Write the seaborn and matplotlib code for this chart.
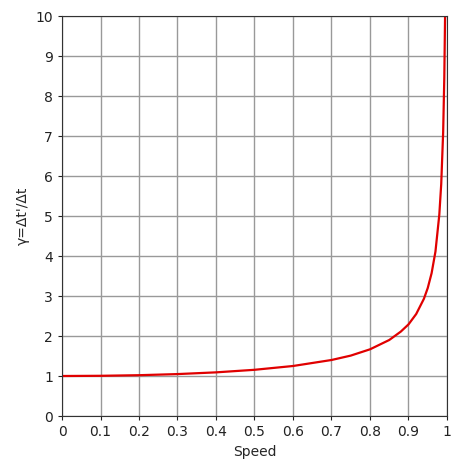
import matplotlib
matplotlib.use("Agg")
import matplotlib.pyplot as plt
import seaborn as sns
import pandas as pd

speed = [0, 0.1, 0.2, 0.3, 0.4, 0.5, 0.6, 0.7, 0.75, 0.8, 0.85, 0.88, 0.9, 0.92, 0.94, 0.95, 0.96, 0.97, 0.98, 0.985, 0.99, 0.993, 0.995]
gamma = [1.0, 1.005, 1.02, 1.048, 1.091, 1.155, 1.25, 1.40, 1.51, 1.667, 1.90, 2.11, 2.29, 2.55, 2.93, 3.20, 3.57, 4.11, 5.03, 5.80, 7.09, 8.47, 10.0]
xticks = [0, 0.1, 0.2, 0.3, 0.4, 0.5, 0.6, 0.7, 0.8, 0.9, 1]
xlabels = ["0", "0.1", "0.2", "0.3", "0.4", "0.5", "0.6", "0.7", "0.8", "0.9", "1"]
yticks = list(range(11))

sns.set_style("white")
fig = plt.figure(figsize=(4.74, 4.74), dpi=100)
ax = fig.add_axes([62/474, 58/474, 385/474, 400/474])
df = pd.DataFrame({"Speed": speed, "gamma": gamma})
sns.lineplot(data=df, x="Speed", y="gamma", color="#e00000", linewidth=1.6, ax=ax)
ax.set_xlim(0, 1)
ax.set_ylim(0, 10)
ax.set_xticks(xticks)
ax.set_xticklabels(xlabels)
ax.set_yticks(yticks)
ax.grid(True, color="#999999", linewidth=1)
for s in ax.spines.values():
    s.set_color("#333333")
ax.tick_params(labelsize=10, length=3, direction="out", bottom=True, left=True, colors="#222222")
ax.set_xlabel("Speed", fontsize=10)
ax.set_ylabel("γ=Δt'/Δt", fontsize=10)
fig.savefig("out.png", dpi=100, facecolor="white")
